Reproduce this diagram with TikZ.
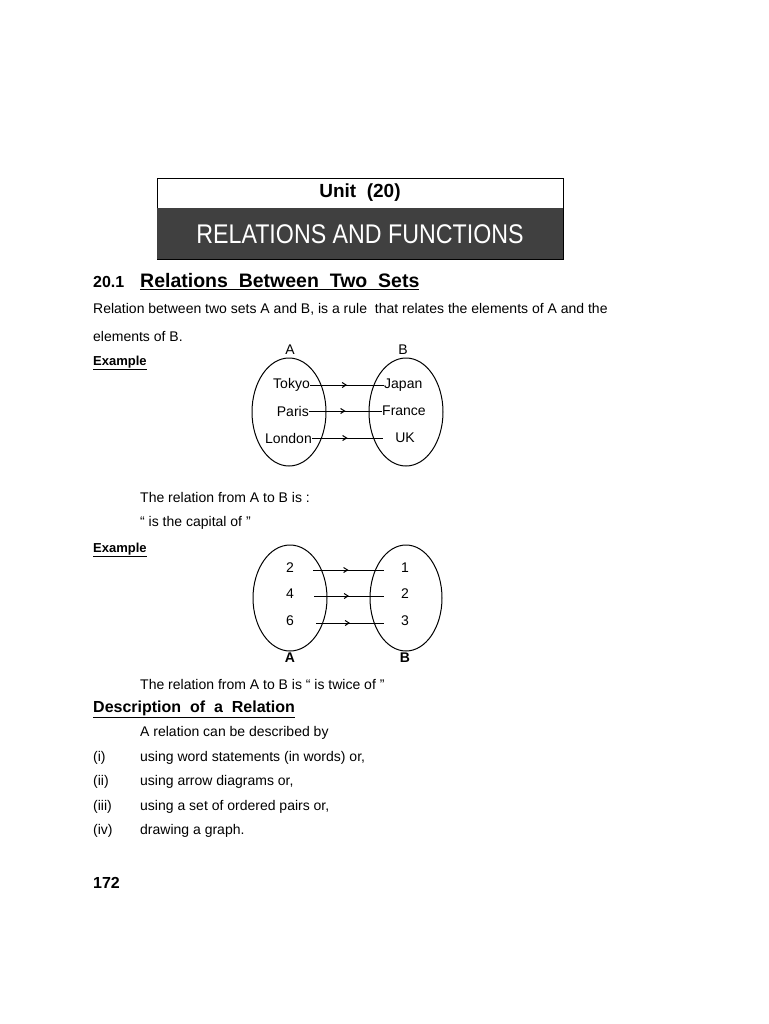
\documentclass[tikz,border=0pt]{standalone}
\usepackage{fontspec}
\setmainfont{Liberation Sans}
\usetikzlibrary{decorations.markings,arrows.meta}
\begin{document}
\begin{tikzpicture}[x=1pt,y=-1pt,
  txt/.style={anchor=west,inner sep=0pt,font=\fontsize{14}{16}\selectfont},
  ctxt/.style={inner sep=0pt,font=\fontsize{14}{16}\selectfont},
  bld/.style={anchor=west,inner sep=0pt,font=\fontsize{16}{18}\selectfont\bfseries},
  setell/.style={draw,line width=1pt},
  rel/.style={line width=1pt,postaction={decorate},decoration={markings,mark=at position 0.5 with {\arrow{Straight Barb[length=4pt,width=5pt]}}}}]
\useasboundingbox (0,0) rectangle (768,1024);
% header
\draw[line width=0.8pt,fill=white] (157,178) rectangle (563,259);
\fill[black!75] (157,208) rectangle (563,259);
\node[inner sep=0pt,font=\fontsize{19}{21}\selectfont\bfseries] (unit) at (360,193) {Unit~~(20)};
\node[inner sep=0pt,text=white,font=\fontsize{27}{29}\selectfont] (title) at (360,234) {\addfontfeature{FakeStretch=0.86}RELATIONS AND FUNCTIONS};
% section
\node[bld] (sec) at (93,282) {20.1};
\node[anchor=west,inner sep=0pt,font=\fontsize{19.5}{21}\selectfont\bfseries] (sect) at (140,282) {\underline{Relations~ Between~ Two~ Sets}};
\node[txt] (l1) at (93,309) {Relation between two sets A and B, is a rule~ that relates the elements of A and the};
\node[txt] (l2) at (93,336) {elements of B.};
\node[anchor=west,inner sep=0pt,font=\fontsize{13}{15}\selectfont\bfseries] (ex1) at (93,363) {\underline{Example}};
% diagram 1
\draw[setell] (289,412) ellipse [x radius=37, y radius=54];
\draw[setell] (406,412) ellipse [x radius=37, y radius=54];
\node[ctxt] (hA) at (290,350) {A};
\node[ctxt] (hB) at (403,350) {B};
\node[ctxt,anchor=east] (tok) at (310,385) {Tokyo};
\node[ctxt,anchor=east] (par) at (309,411) {Paris};
\node[ctxt,anchor=east] (lon) at (312,438) {London};
\node[ctxt,anchor=west] (jap) at (384,385) {Japan};
\node[ctxt,anchor=west] (fra) at (382,411) {France};
\node[ctxt] (uk) at (405,438) {UK};
\draw[rel] (tok.east) -- (jap.west);
\draw[rel] (par.east) -- (fra.west);
\draw[rel] (lon.east) -- (383,438) coordinate (ukc);
\node[txt] (r1) at (140,497) {The relation from A to B is :};
\node[txt] (r2) at (140,523) {“ is the capital of ”};
\node[anchor=west,inner sep=0pt,font=\fontsize{13}{15}\selectfont\bfseries] (ex2) at (93,550) {\underline{Example}};
% diagram 2
\draw[setell] (290,598) ellipse [x radius=37, y radius=53];
\draw[setell] (406,598) ellipse [x radius=36, y radius=53];
\node[ctxt] (a2) at (290,568) {2};
\node[ctxt] (a4) at (290,594) {4};
\node[ctxt] (a6) at (290,621) {6};
\node[ctxt] (b1) at (405,568) {1};
\node[ctxt] (b2) at (405,594) {2};
\node[ctxt] (b3) at (405,621) {3};
\coordinate (s1) at (313,570); \coordinate (e1) at (384,570);
\coordinate (s2) at (314,596); \coordinate (e2) at (384,596);
\coordinate (s3) at (316,623); \coordinate (e3) at (384,623);
\draw[rel] (s1) -- (e1);
\draw[rel] (s2) -- (e2);
\draw[rel] (s3) -- (e3);
\node[inner sep=0pt,font=\fontsize{14}{16}\selectfont\bfseries] (fA) at (290,658) {A};
\node[inner sep=0pt,font=\fontsize{14}{16}\selectfont\bfseries] (fB) at (405,658) {B};
\node[txt] (r3) at (140,684) {The relation from A to B is “ is twice of ”};
% description
\node[bld] (desc) at (93,709) {\underline{Description~ of~ a~ Relation}};
\node[txt] (d0) at (140,733) {A relation can be described by};
\node[txt] (i1) at (93,758) {(i)};   \node[txt] (t1) at (140,758) {using word statements (in words) or,};
\node[txt] (i2) at (93,782) {(ii)};  \node[txt] (t2) at (140,782) {using arrow diagrams or,};
\node[txt] (i3) at (93,807) {(iii)}; \node[txt] (t3) at (140,807) {using a set of ordered pairs or,};
\node[txt] (i4) at (93,831) {(iv)};  \node[txt] (t4) at (140,831) {drawing a graph.};
\node[bld] (pg) at (93,883) {172};
\end{tikzpicture}
\end{document}
